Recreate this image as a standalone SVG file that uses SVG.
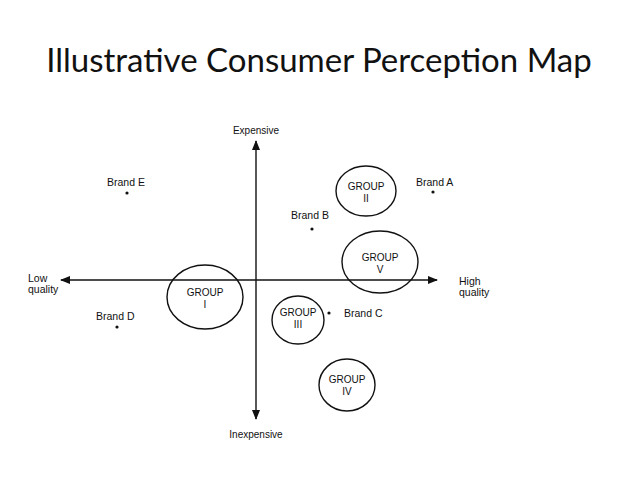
<svg xmlns="http://www.w3.org/2000/svg" width="638" height="479" viewBox="0 0 638 479">
<style>
.t{font-family:"Liberation Sans",Arial,sans-serif;font-size:10.5px;fill:#111}
.g{font-family:"Liberation Sans",Arial,sans-serif;font-size:10px;fill:#111;text-anchor:middle}
.e{fill:none;stroke:#111;stroke-width:1.4}
.d{fill:#111}
</style>
<defs><marker id="a" markerWidth="10" markerHeight="8" refX="9" refY="4" orient="auto-start-reverse" markerUnits="userSpaceOnUse"><path d="M0,0 L10,4 L0,8 Z" fill="#111"/></marker></defs>
<rect width="638" height="479" fill="#fff"/>
<text x="319" y="72" text-anchor="middle" font-family="Lato,'Open Sans',sans-serif" font-size="33" fill="#111">Illustrative Consumer Perception Map</text>
<g id="connectors" stroke="#111" stroke-width="1.4">
<line x1="256" y1="141" x2="256" y2="419" marker-start="url(#a)" marker-end="url(#a)"/>
<line x1="61" y1="280" x2="437" y2="280" marker-start="url(#a)" marker-end="url(#a)"/>
</g>
<g id="axis-labels">
<text class="g" x="256" y="134" font-size="10.5">Expensive</text>
<text class="g" x="256" y="438" font-size="10.5">Inexpensive</text>
<text class="t" x="28" y="282">Low</text><text class="t" x="28" y="293">quality</text>
<text class="t" x="459" y="285">High</text><text class="t" x="459" y="296">quality</text>
</g>
<g id="brandE"><text class="t" x="107" y="186">Brand E</text><circle class="d" cx="127" cy="193" r="1.6"/></g>
<g id="brandA"><text class="t" x="416" y="186">Brand A</text><circle class="d" cx="433" cy="192" r="1.6"/></g>
<g id="brandB"><text class="t" x="291" y="219">Brand B</text><circle class="d" cx="312" cy="229" r="1.6"/></g>
<g id="brandD"><text class="t" x="96" y="320">Brand D</text><circle class="d" cx="117" cy="327" r="1.6"/></g>
<g id="brandC"><text class="t" x="344" y="317">Brand C</text><circle class="d" cx="329" cy="313" r="1.6"/></g>
<g id="group2"><ellipse class="e" cx="366" cy="191" rx="30" ry="25"/><text class="g" x="366" y="190">GROUP</text><text class="g" x="366" y="202">II</text></g>
<g id="group5"><ellipse class="e" cx="380" cy="262" rx="38" ry="31"/><text class="g" x="380" y="261">GROUP</text><text class="g" x="380" y="273">V</text></g>
<g id="group1"><ellipse class="e" cx="205" cy="297" rx="38" ry="32"/><text class="g" x="205" y="296">GROUP</text><text class="g" x="205" y="308">I</text></g>
<g id="group3"><ellipse class="e" cx="298" cy="320" rx="26" ry="24"/><text class="g" x="298" y="316">GROUP</text><text class="g" x="298" y="328">III</text></g>
<g id="group4"><ellipse class="e" cx="347" cy="385" rx="28" ry="26"/><text class="g" x="347" y="383">GROUP</text><text class="g" x="347" y="395">IV</text></g>
</svg>
